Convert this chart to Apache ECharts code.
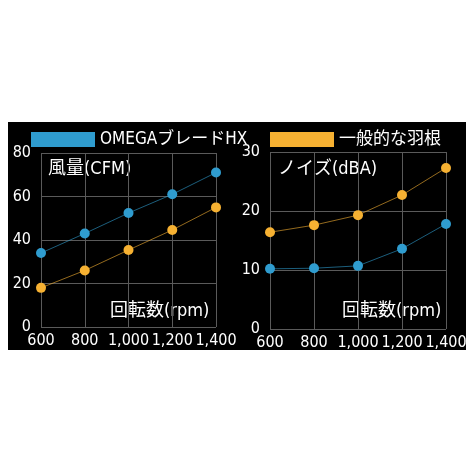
<!DOCTYPE html>
<html><head><meta charset="utf-8">
<script src="https://cdn.jsdelivr.net/npm/echarts@6/dist/echarts.min.js"></script>
<style>html,body{margin:0;padding:0;background:#fff}#c{width:474px;height:474px}</style>
</head><body><div id="c"></div>
<script>
const rpm = [600, 800, 1000, 1200, 1400];
const airOmega = [34, 43, 52.4, 61, 71];
const airNormal = [18, 26, 35.4, 44.6, 55];
const noiseOmega = [10.2, 10.3, 10.7, 13.6, 17.8];
const noiseNormal = [16.4, 17.6, 19.3, 22.7, 27.3];
const nameOmega = 'OMEGAブレードHX';
const nameNormal = '一般的な羽根';
const blue = '#2f9ccf', orange = '#f6b132';
const F = '"DejaVu Sans Condensed","Liberation Sans Narrow","Noto Sans CJK JP",sans-serif';
const pairs = a => rpm.map((x, i) => [x, a[i]]);
const chart = echarts.init(document.getElementById('c'));
const xAx = gi => ({type:'value', gridIndex:gi, min:600, max:1400, interval:200,
  axisLine:{show:false}, axisTick:{show:false},
  axisLabel:{color:'#fff', fontSize:16, fontFamily:F, margin:6},
  splitLine:{lineStyle:{color:'#5a5a5a', width:1}}});
const yAx = (gi, max, iv) => ({type:'value', gridIndex:gi, min:0, max:max, interval:iv,
  axisLine:{show:false}, axisTick:{show:false},
  axisLabel:{color:'#fff', fontSize:16, fontFamily:F, margin:10},
  splitLine:{lineStyle:{color:'#5a5a5a', width:1}}});
const ser = (name, data, color, gi) => ({name, type:'line', xAxisIndex:gi, yAxisIndex:gi, data:pairs(data),
  symbol:'circle', symbolSize:10, itemStyle:{color}, lineStyle:{color, width:1, opacity:0.6}, z:3});
chart.setOption({
  animation:false,
  graphic:[
    {type:'rect', shape:{x:8, y:122, width:458, height:228}, style:{fill:'#000'}, z:-10},
    {type:'text', left:48, top:160, style:{text:'風量(CFM)', fill:'#fff', font:'18px '+F}},
    {type:'text', left:110, top:302, style:{text:'回転数(rpm)', fill:'#fff', font:'18px '+F}},
    {type:'text', left:278, top:160, style:{text:'ノイズ(dBA)', fill:'#fff', font:'18px '+F}},
    {type:'text', left:342, top:302, style:{text:'回転数(rpm)', fill:'#fff', font:'18px '+F}}
  ],
  legend:[
    {data:[nameOmega], left:26, top:126, itemWidth:64, itemHeight:15, icon:'rect', selectedMode:false,
     textStyle:{color:'#fff', fontSize:17, fontFamily:F}},
    {data:[nameNormal], left:265, top:126, itemWidth:64, itemHeight:15, icon:'rect', selectedMode:false,
     textStyle:{color:'#fff', fontSize:17, fontFamily:F}}
  ],
  grid:[{left:41, top:153, width:175, height:174},{left:270, top:152, width:176, height:177}],
  xAxis:[xAx(0), xAx(1)],
  yAxis:[yAx(0,80,20), yAx(1,30,10)],
  series:[ser(nameOmega, airOmega, blue, 0), ser(nameNormal, airNormal, orange, 0),
          ser(nameOmega, noiseOmega, blue, 1), ser(nameNormal, noiseNormal, orange, 1)]
});
</script></body></html>
